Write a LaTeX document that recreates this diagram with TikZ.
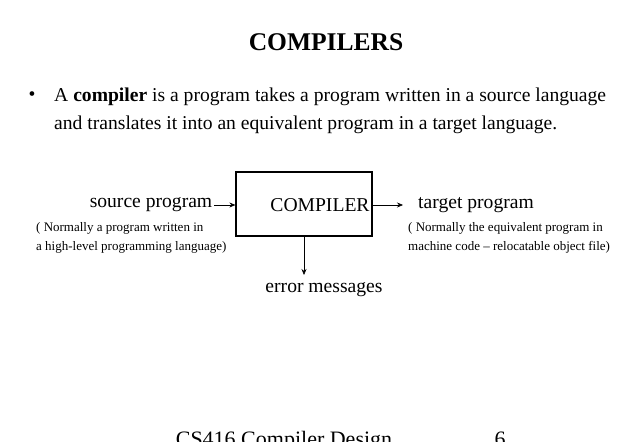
\documentclass[tikz,border=0pt]{standalone}
\usepackage{fontspec}
\setmainfont{Liberation Serif}
\usetikzlibrary{arrows.meta}
\begin{document}
\begin{tikzpicture}[x=1pt,y=-1pt,
  big/.style={font=\fontsize{19.6}{22}\selectfont,inner sep=0},
  small/.style={font=\fontsize{13}{19}\selectfont,inner sep=0,align=left},
  arr/.style={-{Stealth[length=6pt,width=5pt]},line width=0.6pt}]
\clip (0,0) rectangle (638,442);
\useasboundingbox (0,0) rectangle (638,442);
\node[font=\bfseries\fontsize{25.5}{28}\selectfont] (title) at (326,42) {COMPILERS};
\node[big] (bul) at (32,96) {\textbullet};
\node[big,anchor=west,align=left] (body) at (54,111) {A \textbf{compiler} is a program takes a program written in a source language\\[6pt]and translates it into an equivalent program in a target language.};
\node[draw,line width=1.2pt,minimum width=136,minimum height=64,inner sep=0] (box) at (304,204) {};
\node[big] (comp) at (320,205) {COMPILER};
\node[big] (src) at (151,205) {source program};
\node[big] (tgt) at (476,205) {target program};
\coordinate (srcend) at (214,205);
\coordinate (tgtstart) at (403,205);
\draw[arr] (srcend) -- (box.west|-srcend);
\draw[arr] (box.east|-tgtstart) -- (tgtstart);
\node[small,anchor=west] (ls) at (36,238) {( Normally a program written in\\a high-level programming language)};
\node[small,anchor=west] (rs) at (408,238) {( Normally the equivalent program in\\machine code -- relocatable object file)};
\coordinate (errtop) at (304,275);
\draw[arr] (box.south) -- (errtop);
\node[big] (err) at (324,290) {error messages};
\node[font=\fontsize{22}{26}\selectfont,anchor=base] (foot) at (284,446) {CS416 Compiler Design};
\node[font=\fontsize{22}{26}\selectfont,anchor=base] (num) at (500,446) {6};
\end{tikzpicture}
\end{document}
